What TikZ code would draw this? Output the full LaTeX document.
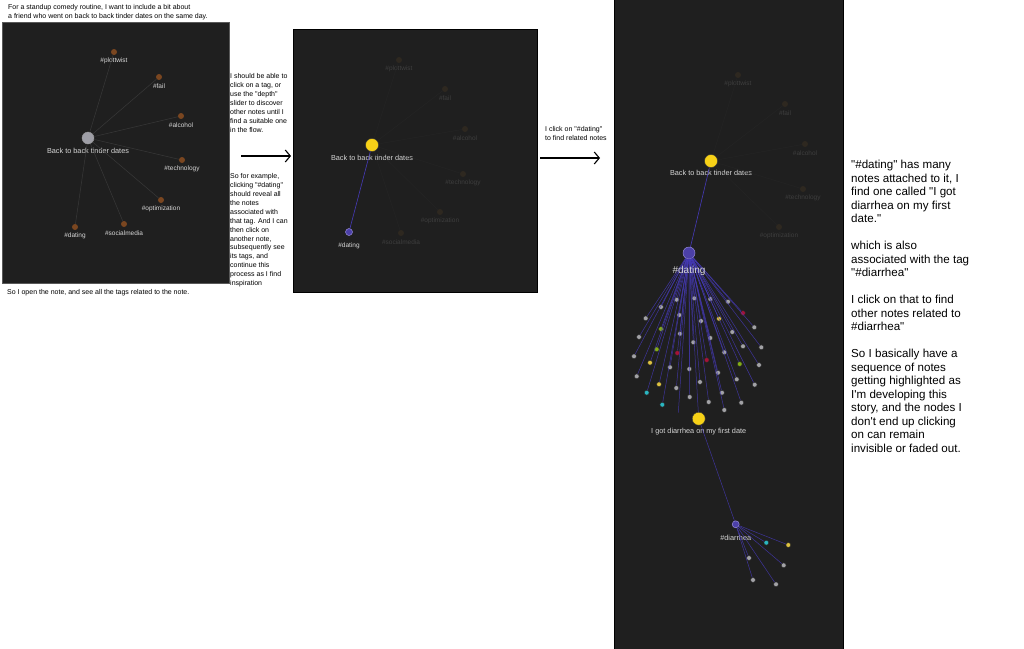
\documentclass[tikz,border=0pt]{standalone}
\usepackage{fontspec}
\setmainfont{Liberation Sans}[Ligatures=TeXOff]
\usetikzlibrary{arrows.meta}
\definecolor{panelbg}{RGB}{31,31,31}
\definecolor{tagbrown}{RGB}{122,70,32}
\definecolor{lbltext}{RGB}{215,215,215}
\definecolor{fadedot}{RGB}{46,40,32}
\definecolor{fadetext}{RGB}{62,62,62}
\definecolor{fadeedge}{RGB}{37,37,37}
\definecolor{edgegray}{RGB}{56,56,56}
\definecolor{gold}{RGB}{247,209,23}
\definecolor{purp}{RGB}{76,64,168}
\definecolor{purpline}{RGB}{150,140,215}
\definecolor{purpedge}{RGB}{70,58,185}
\definecolor{dotgray}{RGB}{162,162,166}
\definecolor{dotred}{RGB}{165,18,55}
\definecolor{dotgreen}{RGB}{130,172,22}
\definecolor{dotyellow}{RGB}{222,194,64}
\definecolor{dotcyan}{RGB}{42,182,192}
\definecolor{notegray}{RGB}{158,158,166}
\begin{document}
\begin{tikzpicture}[x=1pt,y=-1pt,
  panel/.style={fill=panelbg,draw=black,line width=0.8pt},
  tagdot/.style={circle,inner sep=0pt,minimum size=6pt,fill=tagbrown},
  fadedotst/.style={circle,inner sep=0pt,minimum size=6pt,fill=fadedot},
  lbl/.style={inner sep=0pt,font=\fontsize{6.5}{7}\selectfont,text=lbltext},
  fadelbl/.style={inner sep=0pt,font=\fontsize{6.5}{7}\selectfont,text=fadetext},
  notelbl/.style={inner sep=0pt,font=\fontsize{7.3}{8}\selectfont,text=lbltext},
  golddot/.style={circle,inner sep=0pt,minimum size=13pt,fill=gold,draw=black!80,line width=0.4pt},
  purpdot/.style={circle,inner sep=0pt,minimum size=#1,fill=purp,draw=purpline,line width=0.5pt},
  fandot/.style={circle,inner sep=0pt,minimum size=4.8pt,fill=#1,draw=black!85,line width=0.4pt},
  gedge/.style={draw=edgegray,line width=0.5pt},
  fedge/.style={draw=fadeedge,line width=0.4pt},
  pedge/.style={draw=purpedge,line width=0.5pt,opacity=0.8},
  note/.style={inner sep=0pt,font=\fontsize{7}{8.9}\selectfont,align=left,text=black},
  bignote/.style={inner sep=0pt,font=\fontsize{11.6}{13.5}\selectfont,align=left,text=black},
  bigarrow/.style={-{Straight Barb[length=5pt,width=12pt]},line width=1.1pt,draw=black}
]
\fill[white] (0,0) rectangle (1024,648);
\path[use as bounding box] (0,0) rectangle (1024,648);

% ---------- texts ----------
\node[note,anchor=west] (t1) at (8,8) {For a standup comedy routine, I want to include a bit about};
\node[note,anchor=west] (t2) at (8,17) {a friend who went on back to back tinder dates on the same day.};
\node[note,anchor=west] (t3) at (7,293) {So I open the note, and see all the tags related to the note.};
\node[note,anchor=north west] (t4) at (230,73.5) {I should be able to\\click on a tag, or\\use the "depth"\\slider to discover\\other notes until I\\find a suitable one\\in the flow.};
\node[note,anchor=north west] (t5) at (230,173.5) {So for example,\\clicking "\#dating"\\should reveal all\\the notes\\associated with\\that tag. And I can\\then click on\\another note,\\subsequently see\\its tags, and\\continue this\\process as I find\\inspiration};
\node[note,anchor=north west] (t6) at (545,126.5) {I click on "\#dating"\\to find related notes};
\node[bignote,anchor=north west] (t7) at (851,160) {"\#dating" has many\\notes attached to it, I\\find one called "I got\\diarrhea on my first\\date."\\[13.5pt]which is also\\associated with the tag\\"\#diarrhea"\\[13.5pt]I click on that to find\\other notes related to\\\#diarrhea"\\[13.5pt]So I basically have a\\sequence of notes\\getting highlighted as\\I'm developing this\\story, and the nodes I\\don't end up clicking\\on can remain\\invisible or faded out.};

% ---------- arrows ----------
\coordinate (a1s) at (241,156);
\coordinate (a1e) at (291,156);
\coordinate (a2s) at (540,158);
\coordinate (a2e) at (600,158);
\draw[bigarrow] (a1s) -- (a1e);
\draw[bigarrow] (a2s) -- (a2e);

% ---------- panel 1 ----------
\path[panel,draw=black!65] (2,22) rectangle (229,283);
\node[circle,inner sep=0pt,minimum size=12pt,fill=notegray,draw=black!40,line width=0.4pt] (c1) at (88,138) {};
\node[notelbl] (c1l) at (88,151) {Back to back tinder dates};
\foreach \n/\x/\y in {plottwist/114/52,fail/159/77,alcohol/181/116,technology/182/160,optimization/161/200,socialmedia/124/224,dating/75/227}{
  \node[tagdot] (p1\n) at (\x,\y) {};
  \node[lbl] (p1\n l) at (\x,\y+9) {\#\n};
}
\foreach \n in {plottwist,fail,alcohol,technology,optimization,socialmedia,dating}{
  \path[gedge] (c1) -- (p1\n);
}

% ---------- panel 2 ----------
\path[panel] (293,29) rectangle (537,292);
\foreach \n/\x/\y in {plottwist/399/60,fail/445/89,alcohol/465/129,technology/463/174,optimization/440/212,socialmedia/401/233}{
  \node[fadedotst] (p2\n) at (\x,\y) {};
  \node[fadelbl] (p2\n l) at (\x,\y+9) {\#\n};
}
\node[golddot] (y2) at (372,145) {};
\node[notelbl] (y2l) at (372,158) {Back to back tinder dates};
\node[purpdot=7pt] (d2) at (349,232) {};
\node[lbl] (d2l) at (349,246) {\#dating};
\foreach \n in {plottwist,fail,alcohol,technology,optimization,socialmedia}{
  \path[fedge] (y2) -- (p2\n);
}
\path[draw=purpedge,line width=0.6pt] (y2) -- (d2);

% ---------- panel 3 ----------
\path[panel] (614,-1) rectangle (843,649);
\foreach \n/\x/\y in {plottwist/738/75,fail/785/104,alcohol/805/144,technology/803/189,optimization/779/227}{
  \node[fadedotst] (p3\n) at (\x,\y) {};
  \node[fadelbl] (p3\n l) at (\x,\y+9) {\#\n};
}
\node[golddot] (y3) at (711,161) {};
\node[notelbl] (y3l) at (711,173) {Back to back tinder dates};
\foreach \n in {plottwist,fail,alcohol,technology,optimization}{
  \path[fedge] (y3) -- (p3\n);
}
\node[purpdot=12pt] (d3) at (689,253) {};
\path[draw=purpedge,line width=0.6pt] (y3) -- (d3);

% fan of notes
\coordinate (fghost) at (678.3,412.7);
\path[pedge] (d3) -- (fghost);
\foreach \x/\y/\c [count=\i] in {
  676.7/299.7/dotgray, 694.3/298.3/dotgray, 710.3/299/dotgray, 728/301.7/dotgray,
  661/307/dotgray, 743/313/dotred, 645.7/318.3/dotgray, 679.3/315/dotgray,
  701/321/dotgray, 719/318.7/dotyellow, 754.3/327.3/dotgray, 661/329/dotgreen,
  732.3/332/dotgray, 639/337/dotgray, 680/333.7/dotgray, 710.3/338/dotgray,
  693.3/342.3/dotgray, 743/346.3/dotgray, 656.7/349.3/dotgreen, 761.3/347.3/dotgray,
  634/356.3/dotgray, 677.3/353/dotred, 724.3/352.3/dotgray, 650/362.7/dotyellow,
  706.7/360/dotred, 739.7/364/dotgreen, 759/365/dotgray, 670/367.3/dotgray,
  689.3/369/dotgray, 636.7/376.3/dotgray, 718/372.7/dotgray, 736.7/379.3/dotgray,
  659/384.3/dotyellow, 700/382/dotgray, 754.7/384.7/dotgray, 676.3/388/dotgray,
  646.7/392.7/dotcyan, 722/392.7/dotgray, 689.7/397/dotgray, 662.3/404.7/dotcyan,
  708.7/402/dotgray, 741.3/402.7/dotgray, 724.3/410/dotgray}{
  \node[fandot=\c] (f\i) at (\x,\y) {};
}
\foreach \i in {1,...,43}{
  \path[pedge] (d3) -- (f\i);
}
\node[golddot] (g3) at (698.7,418.7) {};
\path[pedge] (d3) -- (g3);
\node[inner sep=0pt,font=\fontsize{10}{11}\selectfont,text=lbltext] (d3l) at (689,271) {\#dating};
\node[notelbl] (g3l) at (698.7,431.5) {I got diarrhea on my first date};

% diarrhea tag
\node[purpdot=7pt] (dia) at (735.7,524.3) {};
\node[notelbl] (dial) at (735.7,537.5) {\#diarrhea};
\path[pedge] (g3) -- (dia);
\foreach \x/\y/\c [count=\i] in {766.3/542.7/dotcyan, 788.3/545/dotyellow, 749/558/dotgray, 783.7/565.3/dotgray, 753/580/dotgray, 776/584.3/dotgray}{
  \node[fandot=\c] (h\i) at (\x,\y) {};
}
\foreach \i in {1,...,6}{
  \path[pedge] (dia) -- (h\i);
}
\end{tikzpicture}
\end{document}
